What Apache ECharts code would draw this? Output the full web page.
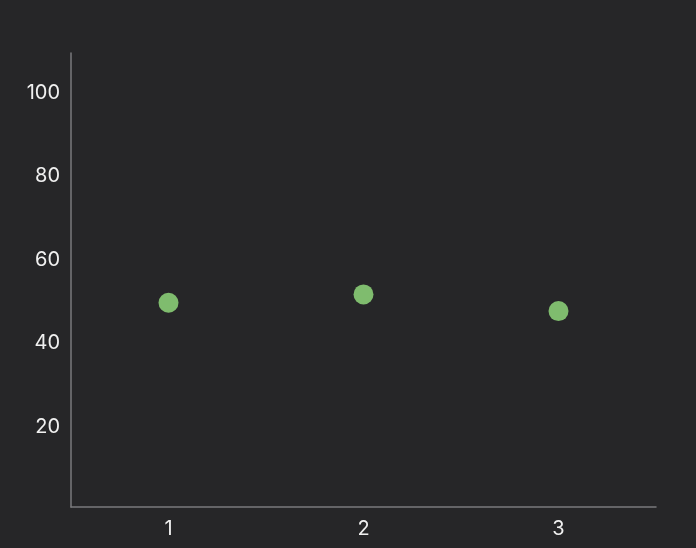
<!DOCTYPE html>
<html>
<head>
<meta charset="utf-8">
<script src="https://cdn.jsdelivr.net/npm/echarts@6/dist/echarts.min.js"></script>
<style>
  html, body { margin: 0; padding: 0; background: #262628; }
  #chart { width: 696px; height: 548px; }
</style>
</head>
<body>
<div id="chart"></div>
<script>
const categories = ["1", "2", "3"];
const values = [49.7, 51.7, 47.7];
const yTicks = [20, 40, 60, 80, 100];

const chart = echarts.init(document.getElementById("chart"));
const labelStyle = { color: "#f0f0f0", fontSize: 20, fontFamily: "Inter" };

chart.setOption({
  backgroundColor: "#262628",
  animation: false,
  grid: { left: 71, right: 40, top: 53, bottom: 41 },
  xAxis: {
    type: "category",
    data: categories,
    axisLine: { lineStyle: { color: "#7a7a7c", width: 1.5 } },
    axisTick: { show: false },
    axisLabel: { ...labelStyle, margin: 12 },
    splitLine: { show: false }
  },
  yAxis: {
    type: "value",
    min: 0.8,
    max: 109.5,
    axisLine: { show: true, lineStyle: { color: "#7a7a7c", width: 1.5 } },
    axisTick: { show: false },
    axisLabel: { ...labelStyle, margin: 11, customValues: yTicks },
    splitLine: { show: false }
  },
  series: [{
    type: "scatter",
    data: values,
    symbolSize: 20,
    itemStyle: { color: "#7fbc6e", opacity: 1 }
  }]
});
</script>
</body>
</html>
